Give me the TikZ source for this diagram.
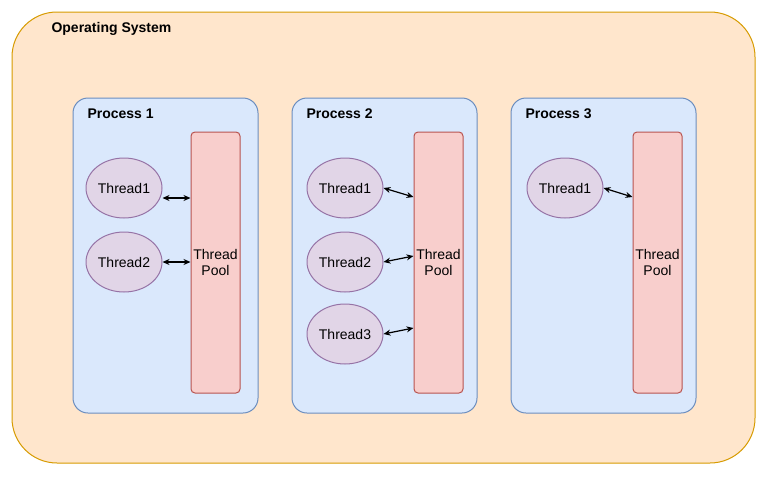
\documentclass[tikz,border=0pt]{standalone}
\usepackage{fontspec}
\setmainfont{Liberation Sans}
\usetikzlibrary{shapes.geometric,arrows.meta}
\begin{document}
\begin{tikzpicture}[x=1pt,y=-1pt,
 os/.style={draw={rgb,255:red,215;green,155;blue,0},fill={rgb,255:red,255;green,230;blue,204},rounded corners=45pt,line width=1pt},
 proc/.style={draw={rgb,255:red,108;green,142;blue,191},fill={rgb,255:red,218;green,232;blue,252},rounded corners=15pt,line width=1pt},
 pool/.style={draw={rgb,255:red,184;green,84;blue,80},fill={rgb,255:red,248;green,206;blue,204},rounded corners=4pt,line width=1pt,align=center,font=\fontsize{14}{16.5}\selectfont},
 th/.style={ellipse,draw={rgb,255:red,150;green,115;blue,166},fill={rgb,255:red,225;green,213;blue,231},minimum width=76pt,minimum height=60pt,inner sep=0pt,line width=1pt,font=\fontsize{14}{16}\selectfont},
 lab/.style={anchor=west,font=\bfseries\fontsize{14}{16}\selectfont},
 arr/.style={{Stealth[length=7pt,width=6pt]}-{Stealth[length=7pt,width=6pt]},line width=1.2pt}]
\useasboundingbox (0,0) rectangle (768,477);
\draw[os] (12,12) rectangle (755,463);
\node[lab] (os) at (48,29) {Operating System};
\foreach \x/\px/\n in {73/215.5/1,292/438.5/2,511/657.5/3}{
 \draw[proc] (\x,98) rectangle ++(185,315);
 \node[lab] (p\n) at (\x+11,114) {Process \n};
 \node[pool,minimum width=49pt,minimum height=261pt,inner sep=0pt] (pool\n) at (\px,262.5) {Thread\\Pool};
}
\node[th] (a1) at (124,188) {Thread1};
\node[th] (a2) at (124,262) {Thread2};
\node[th] (b1) at (345,188) {Thread1};
\node[th] (b2) at (345,262) {Thread2};
\node[th] (b3) at (345,334) {Thread3};
\node[th] (c1) at (565,188) {Thread1};
\draw[arr] (a1.east) ++(0,10) coordinate (q) -- (q -| pool1.west);
\draw[arr] (a2.east) -- (a2.east -| pool1.west);
\draw[arr] (b1.east) -- (pool2.west |- 0,197);
\draw[arr] (b2.east) -- (pool2.west |- 0,256);
\draw[arr] (b3.east) -- (pool2.west |- 0,328);
\draw[arr] (c1.east) -- (pool3.west |- 0,197);
\end{tikzpicture}
\end{document}
